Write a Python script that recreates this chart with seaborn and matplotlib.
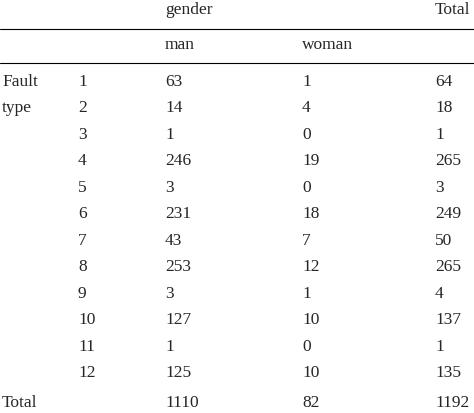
import matplotlib
matplotlib.use("Agg")
import matplotlib.pyplot as plt
import seaborn as sns

sns.set_theme(style="white")
plt.rcParams['font.family'] = ['Liberation Serif', 'DejaVu Serif']

fault_types = [str(i) for i in range(1, 13)]
man = [63, 14, 1, 246, 3, 231, 43, 253, 3, 127, 1, 125]
woman = [1, 4, 0, 19, 0, 18, 7, 12, 1, 10, 0, 10]
total = [64, 18, 1, 265, 3, 249, 50, 265, 4, 137, 1, 135]
total_man, total_woman, grand_total = 1110, 82, 1192

fig = plt.figure(figsize=(4.74, 4.14), dpi=100)
ax = fig.add_axes([0, 0, 1, 1])
ax.set_xlim(0, 474)
ax.set_ylim(414, 0)
ax.axis('off')

fs = 12.5
cx = [2, 78, 165, 302, 435]
ax.text(cx[2], 10, "gender", fontsize=fs, va='center')
ax.text(cx[4], 10, "Total", fontsize=fs, va='center')
ax.axhline(30, color='black', lw=0.8)
ax.text(cx[2], 45, "man", fontsize=fs, va='center')
ax.text(cx[3], 45, "woman", fontsize=fs, va='center')
ax.axhline(64, color='black', lw=0.8)

y0, dy = 82, 26.5
ax.text(cx[0], y0, "Fault", fontsize=fs, va='center')
ax.text(cx[0], y0 + dy, "type", fontsize=fs, va='center')
for i, ft in enumerate(fault_types):
    y = y0 + i * dy
    ax.text(cx[1], y, ft, fontsize=fs, va='center')
    ax.text(cx[2], y, str(man[i]), fontsize=fs, va='center')
    ax.text(cx[3], y, str(woman[i]), fontsize=fs, va='center')
    ax.text(cx[4], y, str(total[i]), fontsize=fs, va='center')
yt = 403
ax.text(cx[0], yt, "Total", fontsize=fs, va='center')
ax.text(cx[2], yt, str(total_man), fontsize=fs, va='center')
ax.text(cx[3], yt, str(total_woman), fontsize=fs, va='center')
ax.text(cx[4], yt, str(grand_total), fontsize=fs, va='center')

fig.savefig("out.png", dpi=100)
